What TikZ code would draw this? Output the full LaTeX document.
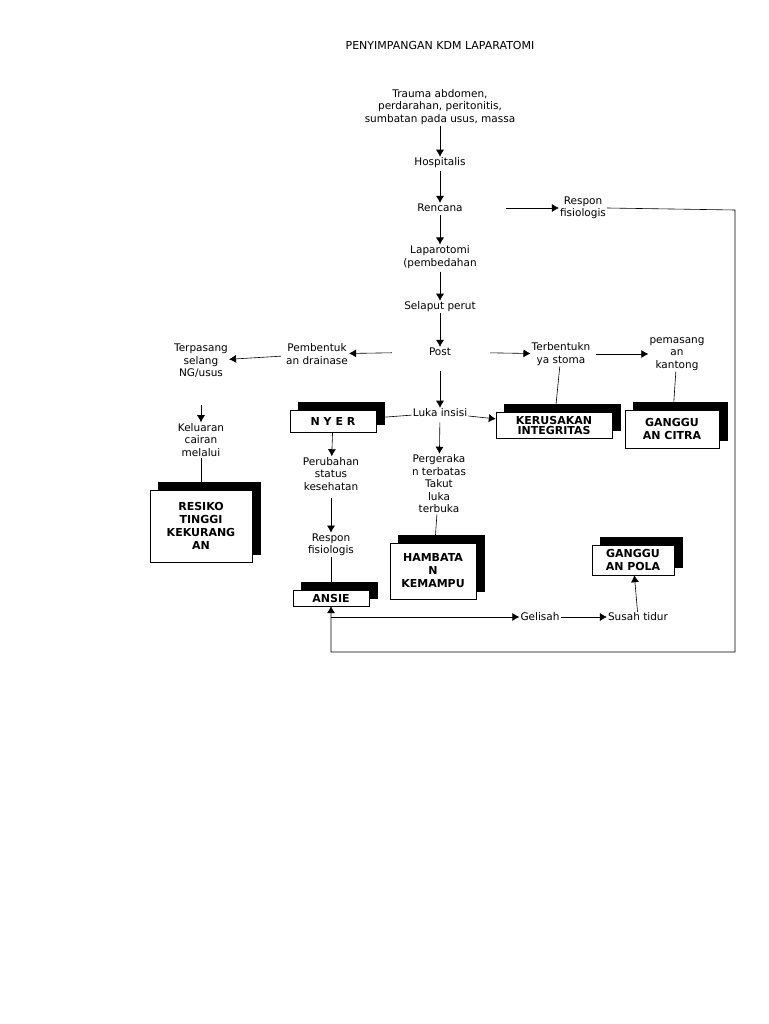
\documentclass[tikz,border=0pt]{standalone}
\usepackage{fontspec}
\setmainfont{DejaVu Sans}
\usetikzlibrary{shadows,arrows.meta}
\begin{document}
\begin{tikzpicture}[x=1pt,y=-1pt,
  every node/.style={font=\fontsize{10.5}{12.5}\selectfont,align=center,inner sep=1pt},
  dx/.style={draw,fill=white,font=\fontsize{11}{13}\selectfont\bfseries,minimum width=#1,
    copy shadow={shadow xshift=8pt,shadow yshift=8pt,fill=black,draw=black}},
  ar/.style={-{Latex[length=7pt,width=8pt]},semithick,shorten <=#1},
  ar/.default=0pt]

    \useasboundingbox (0,0) rectangle (768,1024);

    \node (title) at (440,45) {\fontsize{11}{13}\selectfont PENYIMPANGAN KDM LAPARATOMI};
    \node (trauma) at (440,107) {Trauma abdomen,\\perdarahan, peritonitis,\\sumbatan pada usus, massa};
    \node (hosp) at (440,163) {Hospitalis};
    \node (renc) at (440,208) {Rencana};
    \node (resp1) at (583,208) {Respon\\fisiologis};
    \node (lapar) at (440,257) {Laparotomi\\(pembedahan};
    \node (selap) at (440,307) {Selaput perut};
    \node (post) at (440,352) {Post};
    \node (pemb) at (317,354) {Pembentuk\\an drainase};
    \node (terp) at (201,361) {Terpasang\\selang\\NG/usus};
    \node (terb) at (561,354) {Terbentukn\\ya stoma};
    \node (pems) at (677,354) {pemasang\\an\\kantong};
    \node (luka) at (440,413) {Luka insisi};
    \node[dx=86pt,minimum height=22pt] (nyer) at (333,421) {N Y E R};
    \node[dx=116pt,minimum height=26pt] (kerus) at (554,425) {KERUSAKAN\\[-3pt]INTEGRITAS};
    \node[dx=94pt,minimum height=38pt] (citra) at (672,429) {GANGGU\\AN CITRA};
    \node (kelu) at (201,440) {Keluaran\\cairan\\melalui};
    \node (perub) at (331,474) {Perubahan\\status\\kesehatan};
    \node (perge) at (439,484) {Pergeraka\\n terbatas\\Takut\\luka\\terbuka};
    \node[dx=102pt,minimum height=72pt] (resik) at (201,526) {RESIKO\\TINGGI\\KEKURANG\\AN};
    \node (resp2) at (331,545) {Respon\\fisiologis};
    \node[dx=86pt,minimum height=56pt] (hamb) at (433,571) {HAMBATA\\N\\KEMAMPU};
    \node[dx=82pt,minimum height=30pt] (pola) at (633,560) {GANGGU\\AN POLA};
    \node[dx=76pt,minimum height=16pt] (ansie) at (331,598) {ANSIE};
    \node (gel) at (540,617) {Gelisah};
    \node (susah) at (638,617) {Susah tidur};
    \coordinate (c1) at (735,210);
    \coordinate (c2) at (735,652);
    \coordinate (c3) at (331,652);
    \coordinate (c4) at (331,617);

    \draw[ar] (trauma) -- (hosp);
    \draw[ar=2pt] (hosp) -- (renc);
    \draw[ar=2pt] (renc) -- (lapar);
    \draw[ar=42pt] (renc) -- (resp1);
    \draw[ar=2pt] (lapar) -- (selap);
    \draw[ar] (selap) -- (post);
    \draw[ar=36pt] (post) -- (pemb);
    \draw[ar=4pt] (pemb) -- (terp);
    \draw[ar=38pt] (post) -- (terb);
    \draw[ar=4pt] (terb) -- (pems);
    \draw[ar=14pt] (post) -- (luka);
    \draw[ar=26pt] (terp) -- (kelu);
    \draw[ar] (terb) -- (kerus);
    \draw[ar] (pems) -- (citra);
    \draw[ar] (luka) -- (nyer);
    \draw[ar] (luka) -- (kerus);
    \draw[ar=4pt] (luka) -- (perge);
    \draw[ar] (nyer) -- (perub);
    \draw[ar] (kelu) -- (resik);
    \draw[ar=6pt] (perub) -- (resp2);
    \draw[ar] (perge) -- (hamb);
    \draw[ar] (resp2) -- (ansie);
    \draw[ar] (c4) -- (gel);
    \draw[ar] (gel) -- (susah);
    \draw[ar] (susah) -- (pola);
    \draw[ar] (resp1.east) -- (c1) -- (c2) -- (c3) -- (ansie.south);
\end{tikzpicture}
\end{document}
